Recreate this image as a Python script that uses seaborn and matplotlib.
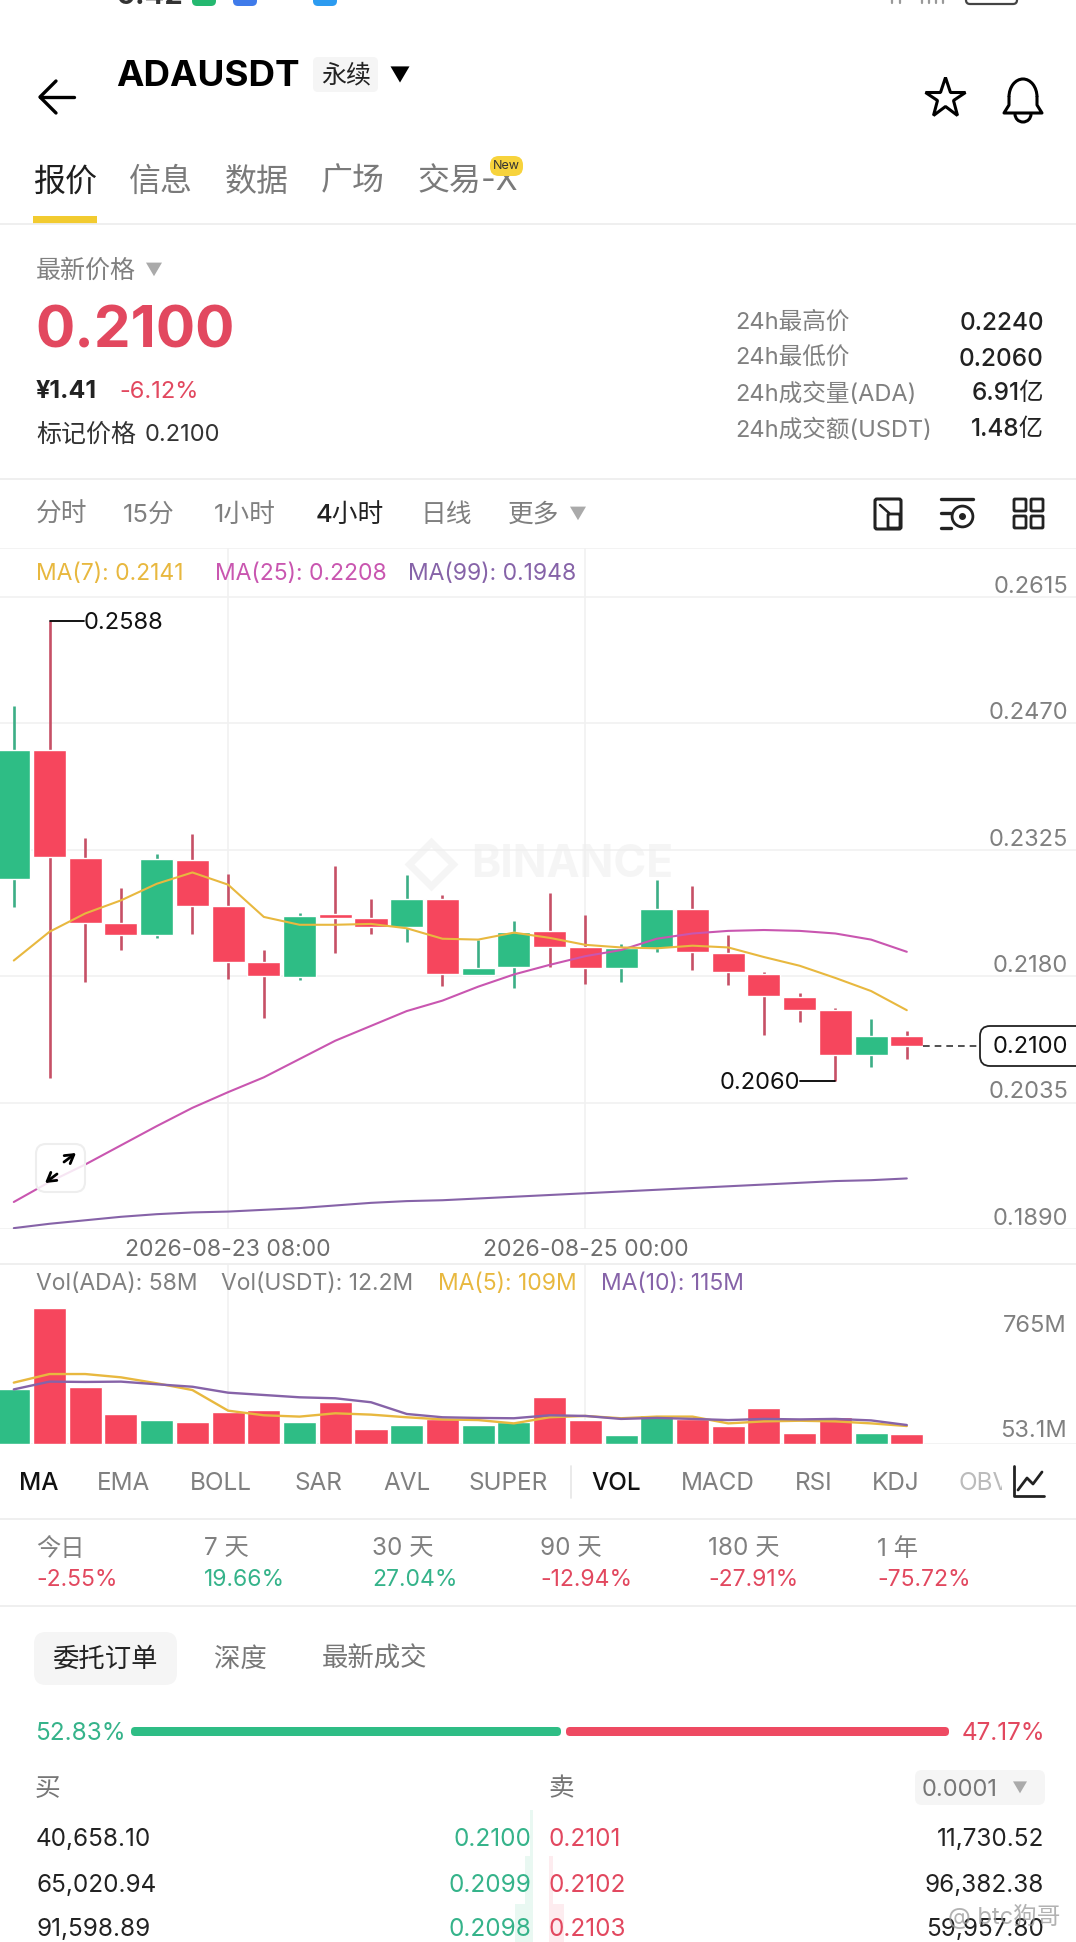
import numpy as np
import pandas as pd
import matplotlib
matplotlib.use("Agg")
import matplotlib.pyplot as plt
import seaborn as sns
from matplotlib.patches import FancyBboxPatch, Rectangle, Polygon, Arc

# candles
open_px = [0.2291, 0.2440, 0.2316, 0.2241, 0.2227, 0.2313, 0.2260, 0.2196, 0.2179, 0.2251, 0.2247, 0.2237, 0.2269,
           0.2181, 0.2191, 0.2232, 0.2213, 0.2189, 0.2212, 0.2257, 0.2207, 0.2183, 0.2156, 0.2141, 0.2090, 0.2111]
close_px = [0.2440, 0.2317, 0.2241, 0.2227, 0.2314, 0.2261, 0.2196, 0.2180, 0.2249, 0.2247, 0.2236, 0.2269, 0.2182,
            0.2189, 0.2231, 0.2213, 0.2189, 0.2212, 0.2257, 0.2208, 0.2185, 0.2157, 0.2141, 0.2090, 0.2111, 0.2100]
high_px = [0.2490, 0.2588, 0.2339, 0.2281, 0.2320, 0.2343, 0.2297, 0.2210, 0.2252, 0.2306, 0.2268, 0.2296, 0.2273,
           0.2222, 0.2243, 0.2276, 0.2250, 0.2217, 0.2290, 0.2284, 0.2227, 0.2185, 0.2161, 0.2143, 0.2131, 0.2117]
low_px = [0.2259, 0.2063, 0.2173, 0.2210, 0.2224, 0.2228, 0.2177, 0.2132, 0.2176, 0.2207, 0.2228, 0.2219, 0.2169,
          0.2181, 0.2166, 0.2191, 0.2171, 0.2173, 0.2208, 0.2187, 0.2170, 0.2112, 0.2128, 0.2060, 0.2076, 0.2085]
ma7 = [0.2198, 0.2231, 0.2252, 0.2267, 0.2286, 0.2299, 0.2285, 0.2248, 0.2239, 0.2239, 0.2240, 0.2235, 0.2223,
       0.2222, 0.2230, 0.2224, 0.2216, 0.2213, 0.2212, 0.2215, 0.2213, 0.2202, 0.2192, 0.2178, 0.2163, 0.2141]
ma25 = [0.1921, 0.1944, 0.1964, 0.1986, 0.2008, 0.2029, 0.2047, 0.2064, 0.2085, 0.2106, 0.2123, 0.2140, 0.2152,
        0.2168, 0.2182, 0.2193, 0.2203, 0.2210, 0.2223, 0.2229, 0.2232, 0.2233, 0.2232, 0.2229, 0.2222, 0.2208]
ma99 = [0.1891, 0.1896, 0.1900, 0.1904, 0.1907, 0.1909, 0.1910, 0.1912, 0.1914, 0.1917, 0.1920, 0.1922, 0.1923,
        0.1925, 0.1927, 0.1929, 0.1931, 0.1933, 0.1935, 0.1937, 0.1939, 0.1941, 0.1943, 0.1945, 0.1946, 0.1948]

# volume panel, millions of ADA
volume = [335, 826, 347, 180, 145, 133, 196, 206, 131, 257, 93, 115, 149,
          115, 135, 287, 145, 53, 176, 149, 111, 216, 65, 162, 67, 58]
vol_ma5 = [372, 424, 424, 404, 368, 327, 202, 174, 166, 186, 178, 162, 149,
           145, 125, 162, 170, 156, 166, 166, 125, 137, 141, 137, 125, 109]
vol_ma10 = [331, 378, 376, 378, 362, 347, 311, 297, 283, 277, 253, 182, 162,
            158, 156, 174, 170, 152, 158, 152, 145, 152, 149, 152, 143, 115]

price_ticks = [0.2615, 0.2470, 0.2325, 0.2180, 0.2035, 0.1890]
date_ticks = [6, 16]
date_labels = ["2026-08-23 08:00", "2026-08-25 00:00"]

tabs = ["报价", "信息", "数据", "广场", "交易-X"]
intervals = ["分时", "15分", "1小时", "4小时", "日线", "更多"]
stat_names = ["24h最高价", "24h最低价", "24h成交量(ADA)", "24h成交额(USDT)"]
stat_values = ["0.2240", "0.2060", "6.91亿", "1.48亿"]
indicators = ["MA", "EMA", "BOLL", "SAR", "AVL", "SUPER", "VOL", "MACD", "RSI", "KDJ", "OBV"]
period_names = ["今日", "7 天", "30 天", "90 天", "180 天", "1 年"]
period_changes = ["-2.55%", "19.66%", "27.04%", "-12.94%", "-27.91%", "-75.72%"]
bid_qty = ["40,658.10", "65,020.94", "91,598.89"]
bid_price = ["0.2100", "0.2099", "0.2098"]
ask_price = ["0.2101", "0.2102", "0.2103"]
ask_qty = ["11,730.52", "96,382.38", "59,957.80"]

RED = "#F6465D"
TXT_RED = "#E2485F"
GREEN = "#2EBD85"
TXT_GREEN = "#35B38A"
GOLD = "#E8B83F"
PINK = "#C956B0"
PURPLE = "#8663A8"
GREY = "#808080"
LINE = "#EEEEEE"

W, H = 1076, 1942
sns.set_theme(style="white")
plt.rcParams["font.family"] = ["Inter", "Noto Sans CJK SC", "DejaVu Sans"]

fig = plt.figure(figsize=(W / 100, H / 100), dpi=100, facecolor="white")


def panel(top, bottom):
    ax = fig.add_axes([0, 1 - bottom / H, 1, (bottom - top) / H])
    ax.patch.set_visible(False)
    for s in ax.spines.values():
        s.set_visible(False)
    return ax


idx = np.arange(len(open_px))
x_lim = (-13.8 / 35.72, (W - 13.8) / 35.72)
up = np.array(close_px) >= np.array(open_px)
candles = pd.DataFrame({"i": idx, "open": open_px, "close": close_px, "high": high_px, "low": low_px,
                        "ma7": ma7, "ma25": ma25, "ma99": ma99, "vol": volume, "vol5": vol_ma5, "vol10": vol_ma10,
                        "side": np.where(up, "up", "down")})

# main price panel
ax = panel(548, 1229)
per_px = 0.0145 / 126.35
ax.set_xlim(*x_lim)
ax.set_ylim(0.1890, 0.2615 + 49 * per_px)
ax.set_yticks(price_ticks + [0.2615 + 49 * per_px])
ax.set_yticklabels([])
ax.set_xticks(date_ticks)
ax.set_xticklabels(date_labels, fontsize=16.5, color="#6E6E6E")
ax.tick_params(axis="both", length=0, pad=7)
ax.grid(True, color="#F1F1F1", lw=1.2)
ax.set_axisbelow(True)

body = np.abs(np.array(close_px) - np.array(open_px))
bottoms = np.minimum(open_px, close_px)
colors = [GREEN if u else RED for u in up]
wick_colors = ["#3CAE86" if u else "#C65066" for u in up]
ax.vlines(idx, low_px, high_px, colors=wick_colors, lw=1.9, zorder=2)
ax.bar(idx, body, bottom=bottoms, width=0.925, color=colors, zorder=3)

for col, c in [("ma99", PURPLE), ("ma25", PINK), ("ma7", GOLD)]:
    sns.lineplot(data=candles, x="i", y=col, color=c, lw=1.5, ax=ax, legend=False, zorder=4)
ax.set_xlabel("")
ax.set_ylabel("")
ax.set_xlim(*x_lim)

# volume panel
vx = panel(1264, 1444)
sns.barplot(data=candles, x="i", y="vol", hue="side", palette={"up": GREEN, "down": RED}, dodge=False,
            native_scale=True, width=0.925, ax=vx, legend=False, saturation=1, zorder=3, errorbar=None)
sns.lineplot(data=candles, x="i", y="vol5", color=GOLD, lw=1.7, ax=vx, legend=False, zorder=4)
sns.lineplot(data=candles, x="i", y="vol10", color=PURPLE, lw=1.7, ax=vx, legend=False, zorder=4)
vx.set_xlim(*x_lim)
vx.set_ylim(0, 180 * 6.06)
vx.set_xlabel("")
vx.set_ylabel("")
vx.set_yticks([0])
vx.set_yticklabels([])
vx.set_xticks(date_ticks)
vx.set_xticklabels([])
vx.tick_params(axis="both", length=0)
vx.grid(True, color="#F1F1F1", lw=1.2)
vx.set_axisbelow(True)

# page furniture in pixel coordinates, on top of the panels
ui = fig.add_axes([0, 0, 1, 1], zorder=10)
ui.set_xlim(0, W)
ui.set_ylim(H, 0)
ui.axis("off")


def t(x, y, s, size=18, color="black", ha="left", weight="normal", **kw):
    return ui.text(x, y, s, fontsize=size, color=color, ha=ha, va="center", fontweight=weight, **kw)


def hline(y, color=LINE, x0=0, x1=W, lw=1.3):
    ui.plot([x0, x1], [y, y], color=color, lw=lw, solid_capstyle="butt")


def rbox(x0, y0, x1, y1, fc, ec="none", r=8, lw=1.2, **kw):
    ui.add_patch(FancyBboxPatch((x0 + r, y0 + r), x1 - x0 - 2 * r, y1 - y0 - 2 * r,
                                boxstyle=f"round,pad={r},rounding_size={r}", fc=fc, ec=ec, lw=lw, **kw))


def tri(x, y, w, color):
    ui.add_patch(Polygon([(x - w / 2, y - w * 0.4), (x + w / 2, y - w * 0.4), (x, y + w * 0.45)], fc=color, ec="none"))


# status bar, cut off by the top edge
t(117, -4, "9:42", size=21, color="#333333", weight="bold")
for xc, c in [(204, "#25B870"), (245, "#3F7BEA"), (325, "#2C9BF0")]:
    rbox(xc - 12, -14, xc + 12, 6, c, r=5)
rbox(966, -12, 1017, 4, "white", ec="#444444", r=4, lw=1.6)
for xc in [892, 900, 922, 929, 936, 943]:
    ui.plot([xc, xc], [-2, 3], color="#999999", lw=1.6)

# header
t(116, 77, "ADAUSDT", size=26.5, weight="bold")
rbox(313, 57, 378, 92, "#F5F5F5", r=5)
t(346, 76, "永续", size=18, ha="center", color="#222222")
tri(400, 74, 19, "black")
ui.plot([40, 74], [97, 97], color="black", lw=2.4)
ui.plot([56, 40, 56], [81, 97, 113], color="black", lw=2.4)
ui.plot([945], [98], marker="*", ms=30, mfc="white", mec="black", mew=2.2)
ui.add_patch(Arc((1023, 97), 28, 36, theta1=180, theta2=360, ec="black", lw=2.2))
ui.plot([1009, 1009, 1004, 1042, 1037, 1037], [97, 105, 113, 113, 105, 97], color="black", lw=2.2)
ui.add_patch(Arc((1023, 114), 16, 16, theta1=0, theta2=180, ec="black", lw=2.2))

for xc, s, i in zip([34, 129, 225, 321, 417], tabs, range(5)):
    t(xc, 182, s, size=23, color="#1E1E1E" if i == 0 else "#7A7A7A", weight="medium" if i == 0 else "normal")
rbox(490, 156, 523, 176, "#F7D33C", r=9, zorder=5)
t(506, 166, "New", size=9, ha="center", color="#333333", zorder=6)
ui.add_patch(Rectangle((33, 216), 64, 8, fc="#F2CB30", ec="none"))
hline(224)

# price block
t(36, 271, "最新价格", size=18, color=GREY)
tri(154, 269, 16, "#AAAAAA")
t(35, 333, "0.2100", size=42, color=TXT_RED, weight="bold")
t(36, 392, "¥1.41", size=18, weight="bold", color="#222222")
t(119, 392, "-6.12%", size=17, color=TXT_RED)
t(36, 435, "标记价格", size=18, color="#333333")
t(145, 435, "0.2100", size=17, color="#333333")
for y, n, v in zip([323, 359, 394, 430], stat_names, stat_values):
    t(735, y, n, size=17, color=GREY)
    t(1044, y, v, size=17.5, ha="right", color="#222222", weight="medium")
hline(479)

# interval row
for xc, s in zip([36, 123, 214, 316, 420, 508], intervals):
    t(xc, 515, s, size=18.5, color="#222222" if s == "4小时" else "#808080", weight="medium" if s == "4小时" else "normal")
tri(578, 513, 16, "#AAAAAA")
rbox(875, 499, 901, 529, "none", ec="#222222", r=2, lw=2.2)
rbox(888, 514, 900, 528, "white", ec="#222222", r=1, lw=2)
ui.plot([880, 889], [505, 513], color="#222222", lw=1.8)
for yy, x0, x1 in [(499, 941, 973), (513, 941, 951), (528, 941, 951)]:
    ui.plot([x0, x1], [yy, yy], color="#222222", lw=2.4)
ui.plot([962], [516], marker="o", ms=15, mfc="white", mec="#222222", mew=2)
ui.plot([962], [516], marker="o", ms=4, color="#222222")
for xc in [1020, 1037]:
    for yc in [505, 522]:
        rbox(xc - 6, yc - 6, xc + 6, yc + 6, "white", ec="#222222", r=1, lw=2)

# legends over the panels
for xc, s, c in [(36, "MA(7): 0.2141", GOLD), (215, "MA(25): 0.2208", PINK), (408, "MA(99): 0.1948", PURPLE)]:
    t(xc, 574, s, size=16.5, color=c)
y_of = lambda p: 597 + (0.2615 - p) / per_px
for p in price_ticks:
    t(1068, y_of(p) - 10, f"{p:.4f}", size=17, ha="right", color=GREY)

# watermark
ui.text(572, 865, "BINANCE", fontsize=32, fontweight="bold", color="#EFEFEF", ha="center", va="center", zorder=0.5, alpha=0.6)
ui.plot([431], [864], marker="D", ms=22, mfc="none", mec="#EFEFEF", mew=5, alpha=0.6)

# extremes and last price
ui.plot([49.5, 84], [y_of(0.2588)] * 2, color="black", lw=1.3)
t(84, y_of(0.2588) + 2, "0.2588", size=17, color="#111111")
ui.plot([835, 800], [y_of(0.2060)] * 2, color="black", lw=1.3)
t(800, y_of(0.2060) + 2, "0.2060", size=17, ha="right", color="#111111")
ui.plot([923, 980], [y_of(0.2100)] * 2, color="#333333", lw=1.2, ls=(0, (4, 3)))
rbox(980, 1026, 1090, 1066, "white", ec="#222222", r=10, lw=1.3)
t(1068, 1047, "0.2100", size=17, ha="right", color="#111111")

# expand button
rbox(36, 1144, 85, 1192, (1, 1, 1, 0.85), ec="#EEEEEE", r=10, lw=1.5)
for tip, tail in [((76, 1153), (64, 1162)), ((45, 1183), (57, 1174))]:
    ui.annotate("", xy=tip, xytext=tail, arrowprops=dict(arrowstyle="->,head_length=0.5,head_width=0.3", color="black", lw=2, shrinkA=0, shrinkB=0))

# volume legend
hline(1264)
for xc, s, c in [(36, "Vol(ADA): 58M", "#808080"), (221, "Vol(USDT): 12.2M", "#808080"),
                 (438, "MA(5): 109M", GOLD), (601, "MA(10): 115M", PURPLE)]:
    t(xc, 1284, s, size=16.5, color=c)
t(1067, 1326, "765M", size=17, ha="right", color=GREY)
t(1067, 1431, "53.1M", size=17, ha="right", color=GREY)

# indicator row
ind_x = [19, 97, 190, 295, 383, 469, 591, 681, 795, 872, 958]
for xc, s in zip(ind_x, indicators):
    on = s in ("MA", "VOL")
    t(xc, 1484, s, size=17.5, color="#111111" if on else ("#BBBBBB" if s == "OBV" else "#808080"), weight="medium" if on else "normal")
ui.add_patch(Rectangle((1002, 1460), 45, 45, fc="white", ec="none", zorder=4))
ui.plot([571, 571], [1466, 1498], color="#E6E6E6", lw=1.2)
ui.plot([1014, 1014, 1044], [1466, 1496, 1496], color="#222222", lw=2, zorder=5)
ui.plot([1018, 1027, 1033, 1042], [1490, 1478, 1484, 1472], color="#222222", lw=2, zorder=5)
hline(1519)

# change row
for xc, n, c in zip([36, 204, 372, 540, 708, 877], period_names, period_changes):
    t(xc, 1549, n, size=17.5, color=GREY)
    t(xc, 1580, c, size=16.5, color=TXT_RED if c.startswith("-") else TXT_GREEN)
hline(1606)

# order book
rbox(34, 1632, 177, 1685, "#F5F5F5", r=12)
t(105, 1660, "委托订单", size=19, ha="center", color="#222222", weight="medium")
t(214, 1660, "深度", size=19, color="#777777")
t(322, 1660, "最新成交", size=19, color="#777777")
t(35, 1733, "52.83%", size=17.5, color=TXT_GREEN)
t(1045, 1733, "47.17%", size=17.5, ha="right", color=TXT_RED)
rbox(131, 1727, 561, 1736, GREEN, r=4)
rbox(566, 1727, 949, 1736, "#EE4A62", r=4)
t(35, 1790, "买", size=18.5, color="#777777")
t(548, 1790, "卖", size=18.5, color="#777777")
rbox(915, 1770, 1045, 1805, "#F5F5F5", r=7)
t(922, 1790, "0.0001", size=17, color="#777777")
tri(1020, 1787, 14, "#AAAAAA")
for x0, x1, y0, y1, c in [(530, 533, 1810, 1860, "#E9F8F2"), (525, 533, 1856, 1904, "#E9F8F2"), (515, 533, 1904, H, "#E9F8F2"),
                          (549, 553, 1856, 1904, "#FDECEF"), (549, 564, 1904, H, "#FDECEF")]:
    ui.add_patch(Rectangle((x0, y0), x1 - x0, y1 - y0, fc=c, ec="none"))
for y, a, b, c, d in zip([1840, 1885, 1930], bid_qty, bid_price, ask_price, ask_qty):
    t(36, y, a, size=17.5, color="#222222")
    t(531, y, b, size=17.5, ha="right", color=TXT_GREEN)
    t(548, y, c, size=17.5, color=TXT_RED)
    t(1044, y, d, size=17.5, ha="right", color="#222222")
t(948, 1916, "@ btc狗哥", size=17, color="#999999", alpha=0.75)

fig.savefig("out.png", dpi=100)
